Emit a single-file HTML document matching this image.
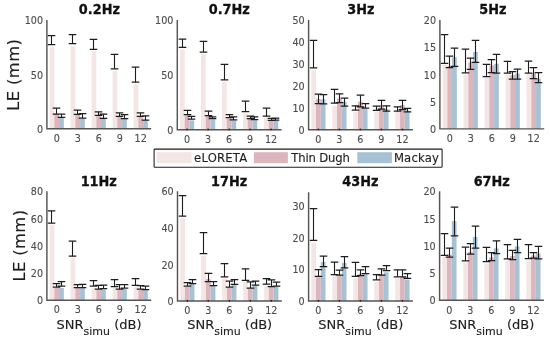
<!DOCTYPE html><html><head><meta charset="utf-8"><style>html,body{margin:0;padding:0;background:#fff;}svg{display:block;}text{font-family:"DejaVu Sans","Liberation Sans",sans-serif;}.t{font-size:9.6px;fill:#4c4c4c;stroke:#4c4c4c;stroke-width:0.12px;}.h{font-size:13.8px;font-weight:bold;fill:#111;stroke:#111;stroke-width:0.3px;}.l{fill:#1e1e1e;stroke:#1e1e1e;stroke-width:0.14px;}</style></head><body><svg width="550" height="345" viewBox="0 0 550 345"><rect width="550" height="345" fill="#fff"/><rect x="49.58" y="47.2" width="4.75" height="81.55" fill="#f4e6e4"/><rect x="54.33" y="113.8" width="4.75" height="14.95" fill="#dbb6bd"/><rect x="59.08" y="118" width="4.75" height="10.75" fill="#a7c2d4"/><rect x="70.58" y="46.3" width="4.75" height="82.45" fill="#f4e6e4"/><rect x="75.33" y="114.5" width="4.75" height="14.25" fill="#dbb6bd"/><rect x="80.08" y="118.5" width="4.75" height="10.25" fill="#a7c2d4"/><rect x="91.58" y="51" width="4.75" height="77.75" fill="#f4e6e4"/><rect x="96.33" y="116" width="4.75" height="12.75" fill="#dbb6bd"/><rect x="101.08" y="118.5" width="4.75" height="10.25" fill="#a7c2d4"/><rect x="112.58" y="70.9" width="4.75" height="57.85" fill="#f4e6e4"/><rect x="117.33" y="116.5" width="4.75" height="12.25" fill="#dbb6bd"/><rect x="122.08" y="118.8" width="4.75" height="9.95" fill="#a7c2d4"/><rect x="133.57" y="83.9" width="4.75" height="44.85" fill="#f4e6e4"/><rect x="138.32" y="116.5" width="4.75" height="12.25" fill="#dbb6bd"/><rect x="143.07" y="120.3" width="4.75" height="8.45" fill="#a7c2d4"/><path d="M51.5 35.5V44.7M56.5 108.2V114M61.5 114.2V117.3M72.5 34.7V43.7M77.5 110V114.3M82.5 113.5V118.1M93.5 39.3V49.3M98.5 111.8V115.3M103.5 114.2V118.3M114.5 54.3V68.8M119.5 112.9V116.4M124.5 114.7V118.6M135.5 67V82.2M140.5 112.9V116.4M145.5 115.8V120.2" stroke="#1e1c1c" stroke-width="1.1" fill="none"/><path d="M47.7 35.5h7.6M47.7 44.7h7.6M52.7 108.2h7.6M52.7 114h7.6M57.7 114.2h7.6M57.7 117.3h7.6M68.7 34.7h7.6M68.7 43.7h7.6M73.7 110h7.6M73.7 114.3h7.6M78.7 113.5h7.6M78.7 118.1h7.6M89.7 39.3h7.6M89.7 49.3h7.6M94.7 111.8h7.6M94.7 115.3h7.6M99.7 114.2h7.6M99.7 118.3h7.6M110.7 54.3h7.6M110.7 68.8h7.6M115.7 112.9h7.6M115.7 116.4h7.6M120.7 114.7h7.6M120.7 118.6h7.6M131.7 67h7.6M131.7 82.2h7.6M136.7 112.9h7.6M136.7 116.4h7.6M141.7 115.8h7.6M141.7 120.2h7.6" stroke="#1e1e1e" stroke-width="1.25" fill="none"/><path d="M46.9 20.1V128.75H151.2" stroke="#555555" stroke-width="1.45" fill="none"/><text x="43" y="129.35" class="t" text-anchor="end" dominant-baseline="central">0</text><text x="43" y="75.02" class="t" text-anchor="end" dominant-baseline="central">50</text><text x="43" y="20.7" class="t" text-anchor="end" dominant-baseline="central">100</text><text x="56.7" y="141.95" class="t" text-anchor="middle">0</text><text x="77.7" y="141.95" class="t" text-anchor="middle">3</text><text x="98.7" y="141.95" class="t" text-anchor="middle">6</text><text x="119.7" y="141.95" class="t" text-anchor="middle">9</text><text x="140.7" y="141.95" class="t" text-anchor="middle">12</text><text transform="translate(99.35 14.3) scale(0.935 1)" class="h" text-anchor="middle">0.2Hz</text><rect x="179.98" y="49.5" width="4.75" height="80.15" fill="#f4e6e4"/><rect x="184.73" y="115.3" width="4.75" height="14.35" fill="#dbb6bd"/><rect x="189.48" y="120.4" width="4.75" height="9.25" fill="#a7c2d4"/><rect x="200.98" y="54" width="4.75" height="75.65" fill="#f4e6e4"/><rect x="205.73" y="116" width="4.75" height="13.65" fill="#dbb6bd"/><rect x="210.48" y="119.5" width="4.75" height="10.15" fill="#a7c2d4"/><rect x="221.98" y="81.8" width="4.75" height="47.85" fill="#f4e6e4"/><rect x="226.73" y="118.3" width="4.75" height="11.35" fill="#dbb6bd"/><rect x="231.48" y="120.5" width="4.75" height="9.15" fill="#a7c2d4"/><rect x="242.98" y="113.5" width="4.75" height="16.15" fill="#f4e6e4"/><rect x="247.73" y="119" width="4.75" height="10.65" fill="#dbb6bd"/><rect x="252.48" y="120.2" width="4.75" height="9.45" fill="#a7c2d4"/><rect x="263.98" y="117.5" width="4.75" height="12.15" fill="#f4e6e4"/><rect x="268.73" y="120.5" width="4.75" height="9.15" fill="#dbb6bd"/><rect x="273.48" y="120.5" width="4.75" height="9.15" fill="#a7c2d4"/><path d="M182.5 39.1V47.3M187.5 110.3V114.6M191.5 116.4V119.2M203.5 41.3V52.1M208.5 111.1V115.5M212.5 116.9V118.7M224.5 64.4V79.9M229.5 114.6V117.6M233.5 116.9V119.9M245.5 101.2V111.7M250.5 116.2V118.6M254.5 116.9V119.7M266.5 108.2V116.2M271.5 118.3V120.3M275.5 118V120.2" stroke="#1e1c1c" stroke-width="1.1" fill="none"/><path d="M178.7 39.1h7.6M178.7 47.3h7.6M183.7 110.3h7.6M183.7 114.6h7.6M187.7 116.4h7.6M187.7 119.2h7.6M199.7 41.3h7.6M199.7 52.1h7.6M204.7 111.1h7.6M204.7 115.5h7.6M208.7 116.9h7.6M208.7 118.7h7.6M220.7 64.4h7.6M220.7 79.9h7.6M225.7 114.6h7.6M225.7 117.6h7.6M229.7 116.9h7.6M229.7 119.9h7.6M241.7 101.2h7.6M241.7 111.7h7.6M246.7 116.2h7.6M246.7 118.6h7.6M250.7 116.9h7.6M250.7 119.7h7.6M262.7 108.2h7.6M262.7 116.2h7.6M267.7 118.3h7.6M267.7 120.3h7.6M271.7 118h7.6M271.7 120.2h7.6" stroke="#1e1e1e" stroke-width="1.25" fill="none"/><path d="M177.3 20.1V129.65H281.6" stroke="#555555" stroke-width="1.45" fill="none"/><rect x="186.4" y="128.65" width="1.4" height="1.6" fill="#2a1c1c"/><rect x="207.4" y="128.65" width="1.4" height="1.6" fill="#2a1c1c"/><rect x="228.4" y="128.65" width="1.4" height="1.6" fill="#2a1c1c"/><rect x="249.4" y="128.65" width="1.4" height="1.6" fill="#2a1c1c"/><rect x="270.4" y="128.65" width="1.4" height="1.6" fill="#2a1c1c"/><text x="173.4" y="130.25" class="t" text-anchor="end" dominant-baseline="central">0</text><text x="173.4" y="75.47" class="t" text-anchor="end" dominant-baseline="central">50</text><text x="173.4" y="20.7" class="t" text-anchor="end" dominant-baseline="central">100</text><text x="187.1" y="142.85" class="t" text-anchor="middle">0</text><text x="208.1" y="142.85" class="t" text-anchor="middle">3</text><text x="229.1" y="142.85" class="t" text-anchor="middle">6</text><text x="250.1" y="142.85" class="t" text-anchor="middle">9</text><text x="271.1" y="142.85" class="t" text-anchor="middle">12</text><text transform="translate(229.25 14.3) scale(0.935 1)" class="h" text-anchor="middle">0.7Hz</text><rect x="311.28" y="70.3" width="4.75" height="59.35" fill="#f4e6e4"/><rect x="316.03" y="99" width="4.75" height="30.65" fill="#dbb6bd"/><rect x="320.78" y="99.3" width="4.75" height="30.35" fill="#a7c2d4"/><rect x="332.28" y="105.8" width="4.75" height="23.85" fill="#f4e6e4"/><rect x="337.03" y="98.6" width="4.75" height="31.05" fill="#dbb6bd"/><rect x="341.78" y="101.7" width="4.75" height="27.95" fill="#a7c2d4"/><rect x="353.28" y="111.9" width="4.75" height="17.75" fill="#f4e6e4"/><rect x="358.03" y="101.7" width="4.75" height="27.95" fill="#dbb6bd"/><rect x="362.78" y="109" width="4.75" height="20.65" fill="#a7c2d4"/><rect x="374.28" y="111.5" width="4.75" height="18.15" fill="#f4e6e4"/><rect x="379.03" y="105" width="4.75" height="24.65" fill="#dbb6bd"/><rect x="383.78" y="109" width="4.75" height="20.65" fill="#a7c2d4"/><rect x="395.28" y="112" width="4.75" height="17.65" fill="#f4e6e4"/><rect x="400.03" y="105" width="4.75" height="24.65" fill="#dbb6bd"/><rect x="404.78" y="110.5" width="4.75" height="19.15" fill="#a7c2d4"/><path d="M313.5 40.4V67.9M318.5 94.2V103.5M323.5 94.5V103.9M334.5 89.4V103.2M339.5 93.8V102.5M344.5 98.1V106.1M355.5 105.8V110.1M360.5 95.2V106.8M365.5 103.6V108M376.5 106.1V110.4M381.5 100.3V109M386.5 105.8V111.2M397.5 106.8V111.2M402.5 100.3V109.7M407.5 108.3V111.9" stroke="#1e1c1c" stroke-width="1.1" fill="none"/><path d="M309.7 40.4h7.6M309.7 67.9h7.6M314.7 94.2h7.6M314.7 103.5h7.6M319.7 94.5h7.6M319.7 103.9h7.6M330.7 89.4h7.6M330.7 103.2h7.6M335.7 93.8h7.6M335.7 102.5h7.6M340.7 98.1h7.6M340.7 106.1h7.6M351.7 105.8h7.6M351.7 110.1h7.6M356.7 95.2h7.6M356.7 106.8h7.6M361.7 103.6h7.6M361.7 108h7.6M372.7 106.1h7.6M372.7 110.4h7.6M377.7 100.3h7.6M377.7 109h7.6M382.7 105.8h7.6M382.7 111.2h7.6M393.7 106.8h7.6M393.7 111.2h7.6M398.7 100.3h7.6M398.7 109.7h7.6M403.7 108.3h7.6M403.7 111.9h7.6" stroke="#1e1e1e" stroke-width="1.25" fill="none"/><path d="M308.6 20.1V129.65H412.9" stroke="#555555" stroke-width="1.45" fill="none"/><rect x="317.7" y="128.65" width="1.4" height="1.6" fill="#2a1c1c"/><rect x="338.7" y="128.65" width="1.4" height="1.6" fill="#2a1c1c"/><rect x="359.7" y="128.65" width="1.4" height="1.6" fill="#2a1c1c"/><rect x="380.7" y="128.65" width="1.4" height="1.6" fill="#2a1c1c"/><rect x="401.7" y="128.65" width="1.4" height="1.6" fill="#2a1c1c"/><text x="304.7" y="130.25" class="t" text-anchor="end" dominant-baseline="central">0</text><text x="304.7" y="108.34" class="t" text-anchor="end" dominant-baseline="central">10</text><text x="304.7" y="86.43" class="t" text-anchor="end" dominant-baseline="central">20</text><text x="304.7" y="64.52" class="t" text-anchor="end" dominant-baseline="central">30</text><text x="304.7" y="42.61" class="t" text-anchor="end" dominant-baseline="central">40</text><text x="304.7" y="20.7" class="t" text-anchor="end" dominant-baseline="central">50</text><text x="318.4" y="142.85" class="t" text-anchor="middle">0</text><text x="339.4" y="142.85" class="t" text-anchor="middle">3</text><text x="360.4" y="142.85" class="t" text-anchor="middle">6</text><text x="381.4" y="142.85" class="t" text-anchor="middle">9</text><text x="402.4" y="142.85" class="t" text-anchor="middle">12</text><text transform="translate(360.85 14.3) scale(0.935 1)" class="h" text-anchor="middle">3Hz</text><rect x="442.57" y="65" width="4.75" height="63.85" fill="#f4e6e4"/><rect x="447.32" y="66" width="4.75" height="62.85" fill="#dbb6bd"/><rect x="452.07" y="57.2" width="4.75" height="71.65" fill="#a7c2d4"/><rect x="463.57" y="74.6" width="4.75" height="54.25" fill="#f4e6e4"/><rect x="468.32" y="62.4" width="4.75" height="66.45" fill="#dbb6bd"/><rect x="473.07" y="52" width="4.75" height="76.85" fill="#a7c2d4"/><rect x="484.57" y="77.6" width="4.75" height="51.25" fill="#f4e6e4"/><rect x="489.32" y="65.4" width="4.75" height="63.45" fill="#dbb6bd"/><rect x="494.07" y="63.8" width="4.75" height="65.05" fill="#a7c2d4"/><rect x="505.58" y="74.6" width="4.75" height="54.25" fill="#f4e6e4"/><rect x="510.33" y="75" width="4.75" height="53.85" fill="#dbb6bd"/><rect x="515.08" y="73.5" width="4.75" height="55.35" fill="#a7c2d4"/><rect x="526.58" y="74.5" width="4.75" height="54.35" fill="#f4e6e4"/><rect x="531.33" y="73" width="4.75" height="55.85" fill="#dbb6bd"/><rect x="536.08" y="78.6" width="4.75" height="50.25" fill="#a7c2d4"/><path d="M444.5 34.6V63.3M449.5 56V67.6M454.5 48.1V66.4M465.5 49V72.8M470.5 58V69.3M475.5 40.3V62.4M486.5 64.4V76.6M491.5 59.7V72.5M496.5 54.3V73.1M507.5 61.4V73.1M512.5 71.5V79.2M517.5 69.1V79.2M528.5 61V73.1M533.5 67.5V78.6M538.5 72.5V82.7" stroke="#1e1c1c" stroke-width="1.1" fill="none"/><path d="M440.7 34.6h7.6M440.7 63.3h7.6M445.7 56h7.6M445.7 67.6h7.6M450.7 48.1h7.6M450.7 66.4h7.6M461.7 49h7.6M461.7 72.8h7.6M466.7 58h7.6M466.7 69.3h7.6M471.7 40.3h7.6M471.7 62.4h7.6M482.7 64.4h7.6M482.7 76.6h7.6M487.7 59.7h7.6M487.7 72.5h7.6M492.7 54.3h7.6M492.7 73.1h7.6M503.7 61.4h7.6M503.7 73.1h7.6M508.7 71.5h7.6M508.7 79.2h7.6M513.7 69.1h7.6M513.7 79.2h7.6M524.7 61h7.6M524.7 73.1h7.6M529.7 67.5h7.6M529.7 78.6h7.6M534.7 72.5h7.6M534.7 82.7h7.6" stroke="#1e1e1e" stroke-width="1.25" fill="none"/><path d="M439.9 20.1V128.85H544.2" stroke="#555555" stroke-width="1.45" fill="none"/><text x="436" y="129.45" class="t" text-anchor="end" dominant-baseline="central">0</text><text x="436" y="102.26" class="t" text-anchor="end" dominant-baseline="central">5</text><text x="436" y="75.07" class="t" text-anchor="end" dominant-baseline="central">10</text><text x="436" y="47.89" class="t" text-anchor="end" dominant-baseline="central">15</text><text x="436" y="20.7" class="t" text-anchor="end" dominant-baseline="central">20</text><text x="449.7" y="142.05" class="t" text-anchor="middle">0</text><text x="470.7" y="142.05" class="t" text-anchor="middle">3</text><text x="491.7" y="142.05" class="t" text-anchor="middle">6</text><text x="512.7" y="142.05" class="t" text-anchor="middle">9</text><text x="533.7" y="142.05" class="t" text-anchor="middle">12</text><text transform="translate(492.85 14.3) scale(0.935 1)" class="h" text-anchor="middle">5Hz</text><rect x="49.58" y="225.2" width="4.75" height="75.05" fill="#f4e6e4"/><rect x="54.33" y="288" width="4.75" height="12.25" fill="#dbb6bd"/><rect x="59.08" y="288" width="4.75" height="12.25" fill="#a7c2d4"/><rect x="70.58" y="258.3" width="4.75" height="41.95" fill="#f4e6e4"/><rect x="75.33" y="288" width="4.75" height="12.25" fill="#dbb6bd"/><rect x="80.08" y="288" width="4.75" height="12.25" fill="#a7c2d4"/><rect x="91.58" y="288.3" width="4.75" height="11.95" fill="#f4e6e4"/><rect x="96.33" y="289.5" width="4.75" height="10.75" fill="#dbb6bd"/><rect x="101.08" y="289.5" width="4.75" height="10.75" fill="#a7c2d4"/><rect x="112.58" y="288" width="4.75" height="12.25" fill="#f4e6e4"/><rect x="117.33" y="289.5" width="4.75" height="10.75" fill="#dbb6bd"/><rect x="122.08" y="289" width="4.75" height="11.25" fill="#a7c2d4"/><rect x="133.57" y="287" width="4.75" height="13.25" fill="#f4e6e4"/><rect x="138.32" y="289.5" width="4.75" height="10.75" fill="#dbb6bd"/><rect x="143.07" y="290" width="4.75" height="10.25" fill="#a7c2d4"/><path d="M51.5 210.8V223.1M56.5 283.7V287.2M61.5 281.5V286.2M72.5 241.2V256.2M77.5 284.7V287.6M82.5 284.4V287.6M93.5 280.6V286.1M98.5 285.3V289M103.5 285V288.5M114.5 279.6V286.6M119.5 284.7V289.1M124.5 284.7V288M135.5 278.6V285.4M140.5 285.7V289.1M145.5 286.2V289.5" stroke="#1e1c1c" stroke-width="1.1" fill="none"/><path d="M47.7 210.8h7.6M47.7 223.1h7.6M52.7 283.7h7.6M52.7 287.2h7.6M57.7 281.5h7.6M57.7 286.2h7.6M68.7 241.2h7.6M68.7 256.2h7.6M73.7 284.7h7.6M73.7 287.6h7.6M78.7 284.4h7.6M78.7 287.6h7.6M89.7 280.6h7.6M89.7 286.1h7.6M94.7 285.3h7.6M94.7 289h7.6M99.7 285h7.6M99.7 288.5h7.6M110.7 279.6h7.6M110.7 286.6h7.6M115.7 284.7h7.6M115.7 289.1h7.6M120.7 284.7h7.6M120.7 288h7.6M131.7 278.6h7.6M131.7 285.4h7.6M136.7 285.7h7.6M136.7 289.1h7.6M141.7 286.2h7.6M141.7 289.5h7.6" stroke="#1e1e1e" stroke-width="1.25" fill="none"/><path d="M46.9 191.3V300.25H151.2" stroke="#555555" stroke-width="1.45" fill="none"/><text x="43" y="300.85" class="t" text-anchor="end" dominant-baseline="central">0</text><text x="43" y="273.61" class="t" text-anchor="end" dominant-baseline="central">20</text><text x="43" y="246.38" class="t" text-anchor="end" dominant-baseline="central">40</text><text x="43" y="219.14" class="t" text-anchor="end" dominant-baseline="central">60</text><text x="43" y="191.9" class="t" text-anchor="end" dominant-baseline="central">80</text><text x="56.7" y="313.45" class="t" text-anchor="middle">0</text><text x="77.7" y="313.45" class="t" text-anchor="middle">3</text><text x="98.7" y="313.45" class="t" text-anchor="middle">6</text><text x="119.7" y="313.45" class="t" text-anchor="middle">9</text><text x="140.7" y="313.45" class="t" text-anchor="middle">12</text><text transform="translate(98.75 185.7) scale(0.935 1)" class="h" text-anchor="middle">11Hz</text><text x="99.05" y="328.9" font-size="13" class="l" text-anchor="middle">SNR<tspan font-size="11" dy="5.8">simu</tspan><tspan dy="-5.8"> (dB)</tspan></text><rect x="180.18" y="218.2" width="4.75" height="82.75" fill="#f4e6e4"/><rect x="184.93" y="287" width="4.75" height="13.95" fill="#dbb6bd"/><rect x="189.68" y="284" width="4.75" height="16.95" fill="#a7c2d4"/><rect x="201.18" y="255.7" width="4.75" height="45.25" fill="#f4e6e4"/><rect x="205.93" y="279" width="4.75" height="21.95" fill="#dbb6bd"/><rect x="210.68" y="286" width="4.75" height="14.95" fill="#a7c2d4"/><rect x="222.18" y="278.6" width="4.75" height="22.35" fill="#f4e6e4"/><rect x="226.93" y="287.5" width="4.75" height="13.45" fill="#dbb6bd"/><rect x="231.68" y="285" width="4.75" height="15.95" fill="#a7c2d4"/><rect x="243.18" y="281.9" width="4.75" height="19.05" fill="#f4e6e4"/><rect x="247.93" y="288.5" width="4.75" height="12.45" fill="#dbb6bd"/><rect x="252.68" y="285.5" width="4.75" height="15.45" fill="#a7c2d4"/><rect x="264.18" y="285.5" width="4.75" height="15.45" fill="#f4e6e4"/><rect x="268.93" y="286.6" width="4.75" height="14.35" fill="#dbb6bd"/><rect x="273.68" y="287" width="4.75" height="13.95" fill="#a7c2d4"/><path d="M182.5 195.6V216.1M187.5 282.6V286.1M192.5 279.7V283.5M203.5 232.6V253.6M208.5 273.4V281.7M213.5 281.7V285.6M224.5 263.5V276.9M229.5 281.1V287M234.5 279.5V284.3M245.5 268.8V280.3M250.5 281.9V288M255.5 281.1V285.1M266.5 278.6V284.2M271.5 279.9V286.5M276.5 282.1V286.2" stroke="#1e1c1c" stroke-width="1.1" fill="none"/><path d="M178.7 195.6h7.6M178.7 216.1h7.6M183.7 282.6h7.6M183.7 286.1h7.6M188.7 279.7h7.6M188.7 283.5h7.6M199.7 232.6h7.6M199.7 253.6h7.6M204.7 273.4h7.6M204.7 281.7h7.6M209.7 281.7h7.6M209.7 285.6h7.6M220.7 263.5h7.6M220.7 276.9h7.6M225.7 281.1h7.6M225.7 287h7.6M230.7 279.5h7.6M230.7 284.3h7.6M241.7 268.8h7.6M241.7 280.3h7.6M246.7 281.9h7.6M246.7 288h7.6M251.7 281.1h7.6M251.7 285.1h7.6M262.7 278.6h7.6M262.7 284.2h7.6M267.7 279.9h7.6M267.7 286.5h7.6M272.7 282.1h7.6M272.7 286.2h7.6" stroke="#1e1e1e" stroke-width="1.25" fill="none"/><path d="M177.5 191.3V300.95H281.8" stroke="#555555" stroke-width="1.45" fill="none"/><rect x="186.6" y="299.95" width="1.4" height="1.6" fill="#2a1c1c"/><rect x="207.6" y="299.95" width="1.4" height="1.6" fill="#2a1c1c"/><rect x="228.6" y="299.95" width="1.4" height="1.6" fill="#2a1c1c"/><rect x="249.6" y="299.95" width="1.4" height="1.6" fill="#2a1c1c"/><rect x="270.6" y="299.95" width="1.4" height="1.6" fill="#2a1c1c"/><text x="173.6" y="301.55" class="t" text-anchor="end" dominant-baseline="central">0</text><text x="173.6" y="265" class="t" text-anchor="end" dominant-baseline="central">20</text><text x="173.6" y="228.45" class="t" text-anchor="end" dominant-baseline="central">40</text><text x="173.6" y="191.9" class="t" text-anchor="end" dominant-baseline="central">60</text><text x="187.3" y="314.15" class="t" text-anchor="middle">0</text><text x="208.3" y="314.15" class="t" text-anchor="middle">3</text><text x="229.3" y="314.15" class="t" text-anchor="middle">6</text><text x="250.3" y="314.15" class="t" text-anchor="middle">9</text><text x="271.3" y="314.15" class="t" text-anchor="middle">12</text><text transform="translate(229.05 185.7) scale(0.935 1)" class="h" text-anchor="middle">17Hz</text><text x="229.65" y="328.9" font-size="13" class="l" text-anchor="middle">SNR<tspan font-size="11" dy="5.8">simu</tspan><tspan dy="-5.8"> (dB)</tspan></text><rect x="311.28" y="242.6" width="4.75" height="58.35" fill="#f4e6e4"/><rect x="316.03" y="277.1" width="4.75" height="23.85" fill="#dbb6bd"/><rect x="320.78" y="262" width="4.75" height="38.95" fill="#a7c2d4"/><rect x="332.28" y="275.5" width="4.75" height="25.45" fill="#f4e6e4"/><rect x="337.03" y="275.8" width="4.75" height="25.15" fill="#dbb6bd"/><rect x="341.78" y="262.8" width="4.75" height="38.15" fill="#a7c2d4"/><rect x="353.28" y="277.9" width="4.75" height="23.05" fill="#f4e6e4"/><rect x="358.03" y="273.6" width="4.75" height="27.35" fill="#dbb6bd"/><rect x="362.78" y="273.9" width="4.75" height="27.05" fill="#a7c2d4"/><rect x="374.28" y="281.8" width="4.75" height="19.15" fill="#f4e6e4"/><rect x="379.03" y="274.7" width="4.75" height="26.25" fill="#dbb6bd"/><rect x="383.78" y="272.3" width="4.75" height="28.65" fill="#a7c2d4"/><rect x="395.28" y="278.3" width="4.75" height="22.65" fill="#f4e6e4"/><rect x="400.03" y="277" width="4.75" height="23.95" fill="#dbb6bd"/><rect x="404.78" y="279.5" width="4.75" height="21.45" fill="#a7c2d4"/><path d="M313.5 208.7V240.3M318.5 269.5V276.3M323.5 256.1V266.7M334.5 262V274.7M339.5 270V275.2M344.5 256.7V267.9M355.5 262.4V276.3M360.5 269.9V275.5M365.5 266.7V273.6M376.5 274.7V279.9M381.5 268.8V275.2M386.5 265.6V270.7M397.5 269.9V276.8M402.5 269.9V276.8M407.5 273.6V278.3" stroke="#1e1c1c" stroke-width="1.1" fill="none"/><path d="M309.7 208.7h7.6M309.7 240.3h7.6M314.7 269.5h7.6M314.7 276.3h7.6M319.7 256.1h7.6M319.7 266.7h7.6M330.7 262h7.6M330.7 274.7h7.6M335.7 270h7.6M335.7 275.2h7.6M340.7 256.7h7.6M340.7 267.9h7.6M351.7 262.4h7.6M351.7 276.3h7.6M356.7 269.9h7.6M356.7 275.5h7.6M361.7 266.7h7.6M361.7 273.6h7.6M372.7 274.7h7.6M372.7 279.9h7.6M377.7 268.8h7.6M377.7 275.2h7.6M382.7 265.6h7.6M382.7 270.7h7.6M393.7 269.9h7.6M393.7 276.8h7.6M398.7 269.9h7.6M398.7 276.8h7.6M403.7 273.6h7.6M403.7 278.3h7.6" stroke="#1e1e1e" stroke-width="1.25" fill="none"/><path d="M308.6 192.2V300.95H412.9" stroke="#555555" stroke-width="1.45" fill="none"/><rect x="317.7" y="299.95" width="1.4" height="1.6" fill="#2a1c1c"/><rect x="338.7" y="299.95" width="1.4" height="1.6" fill="#2a1c1c"/><rect x="359.7" y="299.95" width="1.4" height="1.6" fill="#2a1c1c"/><rect x="380.7" y="299.95" width="1.4" height="1.6" fill="#2a1c1c"/><rect x="401.7" y="299.95" width="1.4" height="1.6" fill="#2a1c1c"/><text x="304.7" y="301.55" class="t" text-anchor="end" dominant-baseline="central">0</text><text x="304.7" y="269.94" class="t" text-anchor="end" dominant-baseline="central">10</text><text x="304.7" y="238.32" class="t" text-anchor="end" dominant-baseline="central">20</text><text x="304.7" y="206.71" class="t" text-anchor="end" dominant-baseline="central">30</text><text x="318.4" y="314.15" class="t" text-anchor="middle">0</text><text x="339.4" y="314.15" class="t" text-anchor="middle">3</text><text x="360.4" y="314.15" class="t" text-anchor="middle">6</text><text x="381.4" y="314.15" class="t" text-anchor="middle">9</text><text x="402.4" y="314.15" class="t" text-anchor="middle">12</text><text transform="translate(360.45 185.7) scale(0.935 1)" class="h" text-anchor="middle">43Hz</text><text x="360.75" y="328.9" font-size="13" class="l" text-anchor="middle">SNR<tspan font-size="11" dy="5.8">simu</tspan><tspan dy="-5.8"> (dB)</tspan></text><rect x="442.28" y="256.5" width="4.75" height="43.8" fill="#f4e6e4"/><rect x="447.03" y="254.5" width="4.75" height="45.8" fill="#dbb6bd"/><rect x="451.78" y="221.1" width="4.75" height="79.2" fill="#a7c2d4"/><rect x="463.28" y="262.6" width="4.75" height="37.7" fill="#f4e6e4"/><rect x="468.03" y="252" width="4.75" height="48.3" fill="#dbb6bd"/><rect x="472.78" y="236.9" width="4.75" height="63.4" fill="#a7c2d4"/><rect x="484.28" y="263.5" width="4.75" height="36.8" fill="#f4e6e4"/><rect x="489.03" y="257.4" width="4.75" height="42.9" fill="#dbb6bd"/><rect x="493.78" y="248.4" width="4.75" height="51.9" fill="#a7c2d4"/><rect x="505.28" y="260.6" width="4.75" height="39.7" fill="#f4e6e4"/><rect x="510.03" y="256" width="4.75" height="44.3" fill="#dbb6bd"/><rect x="514.78" y="246.4" width="4.75" height="53.9" fill="#a7c2d4"/><rect x="526.28" y="260.5" width="4.75" height="39.8" fill="#f4e6e4"/><rect x="531.03" y="255.5" width="4.75" height="44.8" fill="#dbb6bd"/><rect x="535.78" y="253.5" width="4.75" height="46.8" fill="#a7c2d4"/><path d="M444.5 233.6V255.3M449.5 248V257M454.5 207.2V235.9M465.5 247.2V260.9M470.5 243.7V254.1M475.5 226V248.1M486.5 247.4V261.6M491.5 252.5V260.6M496.5 240.9V253.5M507.5 244.7V258.9M512.5 250.4V259.6M517.5 239.3V252.5M528.5 244.7V258.5M533.5 252.5V258.1M538.5 246.4V258.9" stroke="#1e1c1c" stroke-width="1.1" fill="none"/><path d="M440.7 233.6h7.6M440.7 255.3h7.6M445.7 248h7.6M445.7 257h7.6M450.7 207.2h7.6M450.7 235.9h7.6M461.7 247.2h7.6M461.7 260.9h7.6M466.7 243.7h7.6M466.7 254.1h7.6M471.7 226h7.6M471.7 248.1h7.6M482.7 247.4h7.6M482.7 261.6h7.6M487.7 252.5h7.6M487.7 260.6h7.6M492.7 240.9h7.6M492.7 253.5h7.6M503.7 244.7h7.6M503.7 258.9h7.6M508.7 250.4h7.6M508.7 259.6h7.6M513.7 239.3h7.6M513.7 252.5h7.6M524.7 244.7h7.6M524.7 258.5h7.6M529.7 252.5h7.6M529.7 258.1h7.6M534.7 246.4h7.6M534.7 258.9h7.6" stroke="#1e1e1e" stroke-width="1.25" fill="none"/><path d="M439.6 191.3V300.3H543.9" stroke="#555555" stroke-width="1.45" fill="none"/><text x="435.7" y="300.9" class="t" text-anchor="end" dominant-baseline="central">0</text><text x="435.7" y="273.65" class="t" text-anchor="end" dominant-baseline="central">5</text><text x="435.7" y="246.4" class="t" text-anchor="end" dominant-baseline="central">10</text><text x="435.7" y="219.15" class="t" text-anchor="end" dominant-baseline="central">15</text><text x="435.7" y="191.9" class="t" text-anchor="end" dominant-baseline="central">20</text><text x="449.4" y="313.5" class="t" text-anchor="middle">0</text><text x="470.4" y="313.5" class="t" text-anchor="middle">3</text><text x="491.4" y="313.5" class="t" text-anchor="middle">6</text><text x="512.4" y="313.5" class="t" text-anchor="middle">9</text><text x="533.4" y="313.5" class="t" text-anchor="middle">12</text><text transform="translate(491.75 185.7) scale(0.935 1)" class="h" text-anchor="middle">67Hz</text><text x="491.75" y="328.9" font-size="13" class="l" text-anchor="middle">SNR<tspan font-size="11" dy="5.8">simu</tspan><tspan dy="-5.8"> (dB)</tspan></text><text transform="translate(19.2 74.9) rotate(-90)" font-size="16.4" class="l" text-anchor="middle" textLength="71.5" lengthAdjust="spacing">LE (mm)</text><text transform="translate(24.9 245.7) rotate(-90)" font-size="16.4" class="l" text-anchor="middle" textLength="71.5" lengthAdjust="spacing">LE (mm)</text><rect x="154.1" y="149.1" width="288" height="18.2" rx="0.8" fill="#fff" stroke="#1c1c1c" stroke-width="1.05"/><rect x="156.7" y="152.2" width="34.8" height="11" fill="#f4e6e4"/><rect x="253.9" y="152.2" width="34" height="11" fill="#dbb6bd"/><rect x="357.3" y="152.2" width="34.6" height="11" fill="#a7c2d4"/><text x="194.1" y="161.8" font-size="11.6" class="l" textLength="53" lengthAdjust="spacing">eLORETA</text><text x="291.3" y="161.8" font-size="11.6" class="l" textLength="58.6" lengthAdjust="spacing">Thin Dugh</text><text x="393.9" y="161.8" font-size="11.6" class="l" textLength="44.9" lengthAdjust="spacing">Mackay</text></svg></body></html>
